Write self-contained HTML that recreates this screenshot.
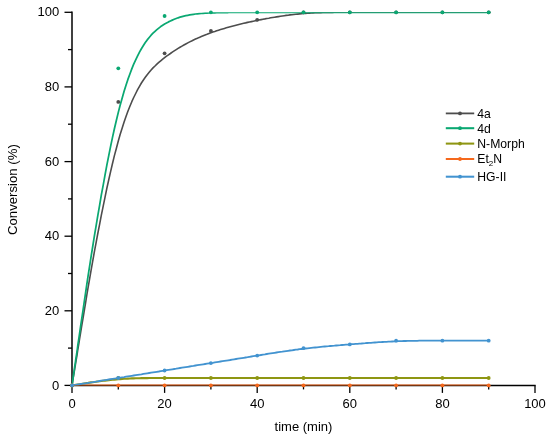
<!DOCTYPE html>
<html><head><meta charset="utf-8"><title>Conversion vs time</title>
<style>html,body{margin:0;padding:0;background:#fff}body{width:550px;height:437px;overflow:hidden}</style></head>
<body>
<svg width="550" height="437" viewBox="0 0 550 437" style="display:block">
<rect width="550" height="437" fill="#fff"/>
<defs><clipPath id="pc"><rect x="72.0" y="12.20" width="463.0" height="373.35"/></clipPath></defs>
<g stroke="#000" fill="none" stroke-linecap="square">
<path d="M72.0 12.3 V385.45" stroke-width="1.5"/><path d="M72.0 385.45 H535.0" stroke-width="1.35"/>
</g>
<g stroke="#000" stroke-width="1.3" fill="none">
<path d="M64.5 385.4 H72.0"/>
<path d="M72.0 385.45 V392.9"/>
<path d="M68.0 348.1 H72.0"/>
<path d="M118.3 385.45 V389.4"/>
<path d="M64.5 310.8 H72.0"/>
<path d="M164.6 385.45 V392.9"/>
<path d="M68.0 273.5 H72.0"/>
<path d="M210.9 385.45 V389.4"/>
<path d="M64.5 236.2 H72.0"/>
<path d="M257.2 385.45 V392.9"/>
<path d="M68.0 198.9 H72.0"/>
<path d="M303.5 385.45 V389.4"/>
<path d="M64.5 161.6 H72.0"/>
<path d="M349.8 385.45 V392.9"/>
<path d="M68.0 124.2 H72.0"/>
<path d="M396.1 385.45 V389.4"/>
<path d="M64.5 86.9 H72.0"/>
<path d="M442.4 385.45 V392.9"/>
<path d="M68.0 49.6 H72.0"/>
<path d="M488.7 385.45 V389.4"/>
<path d="M64.5 12.3 H72.0"/>
<path d="M535.0 385.45 V392.9"/>
</g>
<g font-family="'Liberation Sans', Arial, sans-serif" font-size="13" fill="#000">
<text x="59.3" y="389.5" text-anchor="end">0</text>
<text x="72.0" y="408" text-anchor="middle">0</text>
<text x="59.3" y="314.9" text-anchor="end">20</text>
<text x="164.6" y="408" text-anchor="middle">20</text>
<text x="59.3" y="240.2" text-anchor="end">40</text>
<text x="257.2" y="408" text-anchor="middle">40</text>
<text x="59.3" y="165.6" text-anchor="end">60</text>
<text x="349.8" y="408" text-anchor="middle">60</text>
<text x="59.3" y="91.0" text-anchor="end">80</text>
<text x="442.4" y="408" text-anchor="middle">80</text>
<text x="59.3" y="16.4" text-anchor="end">100</text>
<text x="535.0" y="408" text-anchor="middle">100</text>
<text x="303.5" y="431" text-anchor="middle">time (min)</text>
<text transform="translate(17 189.6) rotate(-90)" text-anchor="middle" font-size="13.2">Conversion (%)</text>
</g>
<path d="M72.0 385.4 L72.0 385.4 L72.0 385.4 L72.0 385.4 L72.0 385.2 L72.1 385.0 L72.1 384.7 L72.2 384.3 L72.3 383.7 L72.4 383.0 L72.6 382.0 L72.7 380.9 L73.0 379.5 L73.2 377.9 L73.5 376.1 L73.9 373.9 L74.3 371.4 L74.7 368.7 L75.3 365.5 L75.8 362.0 L76.5 358.1 L77.2 353.8 L77.9 349.0 L78.8 343.8 L79.7 338.2 L80.7 332.0 L81.8 325.4 L83.0 318.4 L84.2 311.0 L85.5 303.3 L86.8 295.2 L88.2 286.9 L89.7 278.4 L91.2 269.6 L92.8 260.7 L94.4 251.7 L96.1 242.6 L97.8 233.5 L99.6 224.4 L101.3 215.3 L103.2 206.2 L105.0 197.3 L106.8 188.5 L108.7 180.0 L110.6 171.6 L112.5 163.5 L114.4 155.6 L116.4 148.2 L118.3 141.0 L120.2 134.3 L122.2 128.0 L124.1 122.0 L126.0 116.5 L127.9 111.2 L129.9 106.3 L131.8 101.7 L133.7 97.5 L135.7 93.5 L137.6 89.7 L139.5 86.3 L141.4 83.0 L143.4 80.0 L145.3 77.3 L147.2 74.7 L149.2 72.3 L151.1 70.0 L153.0 67.9 L155.0 66.0 L156.9 64.1 L158.8 62.4 L160.7 60.8 L162.7 59.2 L164.6 57.7 L166.5 56.2 L168.5 54.8 L170.4 53.5 L172.3 52.1 L174.2 50.9 L176.2 49.6 L178.1 48.4 L180.0 47.2 L182.0 46.1 L183.9 45.0 L185.8 44.0 L187.8 42.9 L189.7 41.9 L191.6 41.0 L193.5 40.0 L195.5 39.1 L197.4 38.3 L199.3 37.4 L201.3 36.6 L203.2 35.8 L205.1 35.0 L207.0 34.3 L209.0 33.5 L210.9 32.8 L212.8 32.1 L214.8 31.5 L216.7 30.8 L218.6 30.2 L220.5 29.6 L222.5 29.0 L224.4 28.4 L226.3 27.8 L228.3 27.2 L230.2 26.7 L232.1 26.2 L234.1 25.7 L236.0 25.2 L237.9 24.7 L239.8 24.2 L241.8 23.7 L243.7 23.3 L245.6 22.9 L247.6 22.4 L249.5 22.0 L251.4 21.6 L253.3 21.2 L255.3 20.8 L257.2 20.4 L259.1 20.0 L261.1 19.6 L263.0 19.2 L264.9 18.9 L266.8 18.5 L268.8 18.2 L270.7 17.8 L272.6 17.5 L274.6 17.2 L276.5 16.9 L278.4 16.6 L280.4 16.3 L282.3 16.0 L284.2 15.7 L286.1 15.4 L288.1 15.2 L290.0 14.9 L291.9 14.7 L293.9 14.5 L295.8 14.3 L297.7 14.1 L299.6 13.9 L301.6 13.7 L303.5 13.5 L305.4 13.4 L307.4 13.3 L309.3 13.1 L311.2 13.0 L313.1 12.9 L315.1 12.8 L317.0 12.7 L318.9 12.7 L320.9 12.6 L322.8 12.5 L324.7 12.5 L326.6 12.5 L328.6 12.4 L330.5 12.4 L332.4 12.4 L334.4 12.3 L336.3 12.3 L338.2 12.3 L340.2 12.3 L342.1 12.3 L344.0 12.3 L345.9 12.3 L347.9 12.3 L349.8 12.3 L351.7 12.3 L353.7 12.3 L355.6 12.3 L357.5 12.3 L359.4 12.3 L361.4 12.3 L363.3 12.3 L365.2 12.3 L367.2 12.3 L369.1 12.3 L371.0 12.3 L372.9 12.3 L374.9 12.3 L376.8 12.3 L378.7 12.3 L380.7 12.3 L382.6 12.3 L384.5 12.3 L386.5 12.3 L388.4 12.3 L390.3 12.3 L392.2 12.3 L394.2 12.3 L396.1 12.3 L398.0 12.3 L400.0 12.3 L401.9 12.3 L403.8 12.3 L405.7 12.3 L407.7 12.3 L409.6 12.3 L411.5 12.3 L413.5 12.3 L415.4 12.3 L417.3 12.3 L419.2 12.3 L421.2 12.3 L423.1 12.3 L425.0 12.3 L427.0 12.3 L428.9 12.3 L430.8 12.3 L432.8 12.3 L434.7 12.3 L436.6 12.3 L438.5 12.3 L440.5 12.3 L442.4 12.3 L444.3 12.3 L446.3 12.3 L448.2 12.3 L450.1 12.3 L452.0 12.3 L453.9 12.3 L455.7 12.3 L457.5 12.3 L459.4 12.3 L461.1 12.3 L462.9 12.3 L464.6 12.3 L466.3 12.3 L467.9 12.3 L469.5 12.3 L471.0 12.3 L472.5 12.3 L473.9 12.3 L475.2 12.3 L476.5 12.3 L477.7 12.3 L478.9 12.3 L480.0 12.3 L481.0 12.3 L481.9 12.3 L482.8 12.3 L483.5 12.3 L484.2 12.3 L484.9 12.3 L485.4 12.3 L486.0 12.3 L486.4 12.3 L486.8 12.3 L487.2 12.3 L487.5 12.3 L487.7 12.3 L488.0 12.3 L488.1 12.3 L488.3 12.3 L488.4 12.3 L488.5 12.3 L488.6 12.3 L488.6 12.3 L488.7 12.3 L488.7 12.3 L488.7 12.3 L488.7 12.3 L488.7 12.3" fill="none" stroke="#4d4d4d" stroke-width="1.6" stroke-linejoin="round" clip-path="url(#pc)"/>
<g fill="#4d4d4d"><circle cx="72.0" cy="385.4" r="1.9"/><circle cx="118.3" cy="101.9" r="1.9"/><circle cx="164.6" cy="53.3" r="1.9"/><circle cx="210.9" cy="31.0" r="1.9"/><circle cx="257.2" cy="19.8" r="1.9"/><circle cx="303.5" cy="12.3" r="1.9"/><circle cx="349.8" cy="12.3" r="1.9"/><circle cx="396.1" cy="12.3" r="1.9"/><circle cx="442.4" cy="12.3" r="1.9"/><circle cx="488.7" cy="12.3" r="1.9"/></g>
<path d="M72.0 385.4 L72.0 385.4 L72.0 385.4 L72.0 385.3 L72.0 385.2 L72.1 385.0 L72.1 384.6 L72.2 384.1 L72.3 383.5 L72.4 382.7 L72.6 381.6 L72.7 380.4 L73.0 378.8 L73.2 377.0 L73.5 375.0 L73.9 372.5 L74.3 369.8 L74.7 366.7 L75.3 363.1 L75.8 359.2 L76.5 354.9 L77.2 350.0 L77.9 344.7 L78.8 338.9 L79.7 332.6 L80.7 325.7 L81.8 318.3 L83.0 310.5 L84.2 302.2 L85.5 293.5 L86.8 284.5 L88.2 275.2 L89.7 265.7 L91.2 255.9 L92.8 246.0 L94.4 235.9 L96.1 225.8 L97.8 215.6 L99.6 205.4 L101.3 195.2 L103.2 185.1 L105.0 175.2 L106.8 165.4 L108.7 155.8 L110.6 146.4 L112.5 137.4 L114.4 128.7 L116.4 120.3 L118.3 112.4 L120.2 105.0 L122.2 97.9 L124.1 91.3 L126.0 85.2 L127.9 79.4 L129.9 74.0 L131.8 68.9 L133.7 64.2 L135.7 59.9 L137.6 55.9 L139.5 52.1 L141.4 48.7 L143.4 45.5 L145.3 42.6 L147.2 39.9 L149.2 37.5 L151.1 35.2 L153.0 33.2 L155.0 31.3 L156.9 29.6 L158.8 28.1 L160.7 26.6 L162.7 25.3 L164.6 24.1 L166.5 23.0 L168.5 21.9 L170.4 21.0 L172.3 20.1 L174.2 19.3 L176.2 18.5 L178.1 17.8 L180.0 17.2 L182.0 16.6 L183.9 16.1 L185.8 15.7 L187.8 15.3 L189.7 14.9 L191.6 14.6 L193.5 14.3 L195.5 14.0 L197.4 13.8 L199.3 13.6 L201.3 13.5 L203.2 13.3 L205.1 13.2 L207.0 13.1 L209.0 13.0 L210.9 12.9 L212.8 12.8 L214.8 12.8 L216.7 12.7 L218.6 12.7 L220.5 12.6 L222.5 12.6 L224.4 12.5 L226.3 12.5 L228.3 12.5 L230.2 12.4 L232.1 12.4 L234.1 12.4 L236.0 12.4 L237.9 12.3 L239.8 12.3 L241.8 12.3 L243.7 12.3 L245.6 12.3 L247.6 12.3 L249.5 12.3 L251.4 12.3 L253.3 12.3 L255.3 12.3 L257.2 12.3 L259.1 12.3 L261.1 12.3 L263.0 12.3 L264.9 12.3 L266.8 12.3 L268.8 12.3 L270.7 12.3 L272.6 12.3 L274.6 12.3 L276.5 12.3 L278.4 12.3 L280.4 12.3 L282.3 12.3 L284.2 12.3 L286.1 12.3 L288.1 12.3 L290.0 12.3 L291.9 12.3 L293.9 12.3 L295.8 12.3 L297.7 12.3 L299.6 12.3 L301.6 12.3 L303.5 12.3 L305.4 12.3 L307.4 12.3 L309.3 12.3 L311.2 12.3 L313.1 12.3 L315.1 12.3 L317.0 12.3 L318.9 12.3 L320.9 12.3 L322.8 12.3 L324.7 12.3 L326.6 12.3 L328.6 12.3 L330.5 12.3 L332.4 12.3 L334.4 12.3 L336.3 12.3 L338.2 12.3 L340.2 12.3 L342.1 12.3 L344.0 12.3 L345.9 12.3 L347.9 12.3 L349.8 12.3 L351.7 12.3 L353.7 12.3 L355.6 12.3 L357.5 12.3 L359.4 12.3 L361.4 12.3 L363.3 12.3 L365.2 12.3 L367.2 12.3 L369.1 12.3 L371.0 12.3 L372.9 12.3 L374.9 12.3 L376.8 12.3 L378.7 12.3 L380.7 12.3 L382.6 12.3 L384.5 12.3 L386.5 12.3 L388.4 12.3 L390.3 12.3 L392.2 12.3 L394.2 12.3 L396.1 12.3 L398.0 12.3 L400.0 12.3 L401.9 12.3 L403.8 12.3 L405.7 12.3 L407.7 12.3 L409.6 12.3 L411.5 12.3 L413.5 12.3 L415.4 12.3 L417.3 12.3 L419.2 12.3 L421.2 12.3 L423.1 12.3 L425.0 12.3 L427.0 12.3 L428.9 12.3 L430.8 12.3 L432.8 12.3 L434.7 12.3 L436.6 12.3 L438.5 12.3 L440.5 12.3 L442.4 12.3 L444.3 12.3 L446.3 12.3 L448.2 12.3 L450.1 12.3 L452.0 12.3 L453.9 12.3 L455.7 12.3 L457.5 12.3 L459.4 12.3 L461.1 12.3 L462.9 12.3 L464.6 12.3 L466.3 12.3 L467.9 12.3 L469.5 12.3 L471.0 12.3 L472.5 12.3 L473.9 12.3 L475.2 12.3 L476.5 12.3 L477.7 12.3 L478.9 12.3 L480.0 12.3 L481.0 12.3 L481.9 12.3 L482.8 12.3 L483.5 12.3 L484.2 12.3 L484.9 12.3 L485.4 12.3 L486.0 12.3 L486.4 12.3 L486.8 12.3 L487.2 12.3 L487.5 12.3 L487.7 12.3 L488.0 12.3 L488.1 12.3 L488.3 12.3 L488.4 12.3 L488.5 12.3 L488.6 12.3 L488.6 12.3 L488.7 12.3 L488.7 12.3 L488.7 12.3 L488.7 12.3 L488.7 12.3" fill="none" stroke="#0aa872" stroke-width="1.75" stroke-linejoin="round" clip-path="url(#pc)"/>
<g fill="#0aa872"><circle cx="72.0" cy="385.4" r="1.9"/><circle cx="118.3" cy="68.3" r="1.9"/><circle cx="164.6" cy="16.0" r="1.9"/><circle cx="210.9" cy="12.3" r="1.9"/><circle cx="257.2" cy="12.3" r="1.9"/><circle cx="303.5" cy="12.3" r="1.9"/><circle cx="349.8" cy="12.3" r="1.9"/><circle cx="396.1" cy="12.3" r="1.9"/><circle cx="442.4" cy="12.3" r="1.9"/><circle cx="488.7" cy="12.3" r="1.9"/></g>
<path d="M72.0 385.4 L72.0 385.4 L72.0 385.4 L72.0 385.4 L72.0 385.4 L72.1 385.4 L72.1 385.4 L72.2 385.4 L72.3 385.4 L72.4 385.4 L72.6 385.4 L72.7 385.3 L73.0 385.3 L73.2 385.3 L73.5 385.2 L73.9 385.1 L74.3 385.1 L74.7 385.0 L75.3 384.9 L75.8 384.8 L76.5 384.7 L77.2 384.6 L77.9 384.5 L78.8 384.4 L79.7 384.2 L80.7 384.0 L81.8 383.9 L83.0 383.7 L84.2 383.5 L85.5 383.3 L86.8 383.1 L88.2 382.9 L89.7 382.6 L91.2 382.4 L92.8 382.2 L94.4 382.0 L96.1 381.7 L97.8 381.5 L99.6 381.3 L101.3 381.0 L103.2 380.8 L105.0 380.6 L106.8 380.4 L108.7 380.1 L110.6 379.9 L112.5 379.8 L114.4 379.6 L116.4 379.4 L118.3 379.2 L120.2 379.1 L122.2 378.9 L124.1 378.8 L126.0 378.7 L127.9 378.6 L129.9 378.5 L131.8 378.4 L133.7 378.4 L135.7 378.3 L137.6 378.2 L139.5 378.2 L141.4 378.1 L143.4 378.1 L145.3 378.1 L147.2 378.1 L149.2 378.0 L151.1 378.0 L153.0 378.0 L155.0 378.0 L156.9 378.0 L158.8 378.0 L160.7 378.0 L162.7 378.0 L164.6 378.0 L166.5 378.0 L168.5 378.0 L170.4 378.0 L172.3 378.0 L174.2 378.0 L176.2 378.0 L178.1 378.0 L180.0 378.0 L182.0 378.0 L183.9 378.0 L185.8 378.0 L187.8 378.0 L189.7 378.0 L191.6 378.0 L193.5 378.0 L195.5 378.0 L197.4 378.0 L199.3 378.0 L201.3 378.0 L203.2 378.0 L205.1 378.0 L207.0 378.0 L209.0 378.0 L210.9 378.0 L212.8 378.0 L214.8 378.0 L216.7 378.0 L218.6 378.0 L220.5 378.0 L222.5 378.0 L224.4 378.0 L226.3 378.0 L228.3 378.0 L230.2 378.0 L232.1 378.0 L234.1 378.0 L236.0 378.0 L237.9 378.0 L239.8 378.0 L241.8 378.0 L243.7 378.0 L245.6 378.0 L247.6 378.0 L249.5 378.0 L251.4 378.0 L253.3 378.0 L255.3 378.0 L257.2 378.0 L259.1 378.0 L261.1 378.0 L263.0 378.0 L264.9 378.0 L266.8 378.0 L268.8 378.0 L270.7 378.0 L272.6 378.0 L274.6 378.0 L276.5 378.0 L278.4 378.0 L280.4 378.0 L282.3 378.0 L284.2 378.0 L286.1 378.0 L288.1 378.0 L290.0 378.0 L291.9 378.0 L293.9 378.0 L295.8 378.0 L297.7 378.0 L299.6 378.0 L301.6 378.0 L303.5 378.0 L305.4 378.0 L307.4 378.0 L309.3 378.0 L311.2 378.0 L313.1 378.0 L315.1 378.0 L317.0 378.0 L318.9 378.0 L320.9 378.0 L322.8 378.0 L324.7 378.0 L326.6 378.0 L328.6 378.0 L330.5 378.0 L332.4 378.0 L334.4 378.0 L336.3 378.0 L338.2 378.0 L340.2 378.0 L342.1 378.0 L344.0 378.0 L345.9 378.0 L347.9 378.0 L349.8 378.0 L351.7 378.0 L353.7 378.0 L355.6 378.0 L357.5 378.0 L359.4 378.0 L361.4 378.0 L363.3 378.0 L365.2 378.0 L367.2 378.0 L369.1 378.0 L371.0 378.0 L372.9 378.0 L374.9 378.0 L376.8 378.0 L378.7 378.0 L380.7 378.0 L382.6 378.0 L384.5 378.0 L386.5 378.0 L388.4 378.0 L390.3 378.0 L392.2 378.0 L394.2 378.0 L396.1 378.0 L398.0 378.0 L400.0 378.0 L401.9 378.0 L403.8 378.0 L405.7 378.0 L407.7 378.0 L409.6 378.0 L411.5 378.0 L413.5 378.0 L415.4 378.0 L417.3 378.0 L419.2 378.0 L421.2 378.0 L423.1 378.0 L425.0 378.0 L427.0 378.0 L428.9 378.0 L430.8 378.0 L432.8 378.0 L434.7 378.0 L436.6 378.0 L438.5 378.0 L440.5 378.0 L442.4 378.0 L444.3 378.0 L446.3 378.0 L448.2 378.0 L450.1 378.0 L452.0 378.0 L453.9 378.0 L455.7 378.0 L457.5 378.0 L459.4 378.0 L461.1 378.0 L462.9 378.0 L464.6 378.0 L466.3 378.0 L467.9 378.0 L469.5 378.0 L471.0 378.0 L472.5 378.0 L473.9 378.0 L475.2 378.0 L476.5 378.0 L477.7 378.0 L478.9 378.0 L480.0 378.0 L481.0 378.0 L481.9 378.0 L482.8 378.0 L483.5 378.0 L484.2 378.0 L484.9 378.0 L485.4 378.0 L486.0 378.0 L486.4 378.0 L486.8 378.0 L487.2 378.0 L487.5 378.0 L487.7 378.0 L488.0 378.0 L488.1 378.0 L488.3 378.0 L488.4 378.0 L488.5 378.0 L488.6 378.0 L488.6 378.0 L488.7 378.0 L488.7 378.0 L488.7 378.0 L488.7 378.0 L488.7 378.0" fill="none" stroke="#8e9612" stroke-width="2.1" stroke-linejoin="round" clip-path="url(#pc)"/>
<g fill="#8e9612"><circle cx="72.0" cy="385.4" r="1.9"/><circle cx="118.3" cy="378.0" r="1.9"/><circle cx="164.6" cy="378.0" r="1.9"/><circle cx="210.9" cy="378.0" r="1.9"/><circle cx="257.2" cy="378.0" r="1.9"/><circle cx="303.5" cy="378.0" r="1.9"/><circle cx="349.8" cy="378.0" r="1.9"/><circle cx="396.1" cy="378.0" r="1.9"/><circle cx="442.4" cy="378.0" r="1.9"/><circle cx="488.7" cy="378.0" r="1.9"/></g>
<path d="M72.0 385.4 L72.0 385.4 L72.0 385.4 L72.0 385.4 L72.0 385.4 L72.1 385.4 L72.1 385.4 L72.2 385.4 L72.3 385.4 L72.4 385.4 L72.6 385.4 L72.7 385.4 L73.0 385.4 L73.2 385.4 L73.5 385.4 L73.9 385.4 L74.3 385.4 L74.7 385.4 L75.3 385.4 L75.8 385.4 L76.5 385.4 L77.2 385.4 L77.9 385.4 L78.8 385.4 L79.7 385.4 L80.7 385.4 L81.8 385.4 L83.0 385.4 L84.2 385.4 L85.5 385.4 L86.8 385.4 L88.2 385.4 L89.7 385.4 L91.2 385.4 L92.8 385.4 L94.4 385.4 L96.1 385.4 L97.8 385.4 L99.6 385.4 L101.3 385.4 L103.2 385.4 L105.0 385.4 L106.8 385.4 L108.7 385.4 L110.6 385.4 L112.5 385.4 L114.4 385.4 L116.4 385.4 L118.3 385.4 L120.2 385.4 L122.2 385.4 L124.1 385.4 L126.0 385.4 L127.9 385.4 L129.9 385.4 L131.8 385.4 L133.7 385.4 L135.7 385.4 L137.6 385.4 L139.5 385.4 L141.4 385.4 L143.4 385.4 L145.3 385.4 L147.2 385.4 L149.2 385.4 L151.1 385.4 L153.0 385.4 L155.0 385.4 L156.9 385.4 L158.8 385.4 L160.7 385.4 L162.7 385.4 L164.6 385.4 L166.5 385.4 L168.5 385.4 L170.4 385.4 L172.3 385.4 L174.2 385.4 L176.2 385.4 L178.1 385.4 L180.0 385.4 L182.0 385.4 L183.9 385.4 L185.8 385.4 L187.8 385.4 L189.7 385.4 L191.6 385.4 L193.5 385.4 L195.5 385.4 L197.4 385.4 L199.3 385.4 L201.3 385.4 L203.2 385.4 L205.1 385.4 L207.0 385.4 L209.0 385.4 L210.9 385.4 L212.8 385.4 L214.8 385.4 L216.7 385.4 L218.6 385.4 L220.5 385.4 L222.5 385.4 L224.4 385.4 L226.3 385.4 L228.3 385.4 L230.2 385.4 L232.1 385.4 L234.1 385.4 L236.0 385.4 L237.9 385.4 L239.8 385.4 L241.8 385.4 L243.7 385.4 L245.6 385.4 L247.6 385.4 L249.5 385.4 L251.4 385.4 L253.3 385.4 L255.3 385.4 L257.2 385.4 L259.1 385.4 L261.1 385.4 L263.0 385.4 L264.9 385.4 L266.8 385.4 L268.8 385.4 L270.7 385.4 L272.6 385.4 L274.6 385.4 L276.5 385.4 L278.4 385.4 L280.4 385.4 L282.3 385.4 L284.2 385.4 L286.1 385.4 L288.1 385.4 L290.0 385.4 L291.9 385.4 L293.9 385.4 L295.8 385.4 L297.7 385.4 L299.6 385.4 L301.6 385.4 L303.5 385.4 L305.4 385.4 L307.4 385.4 L309.3 385.4 L311.2 385.4 L313.1 385.4 L315.1 385.4 L317.0 385.4 L318.9 385.4 L320.9 385.4 L322.8 385.4 L324.7 385.4 L326.6 385.4 L328.6 385.4 L330.5 385.4 L332.4 385.4 L334.4 385.4 L336.3 385.4 L338.2 385.4 L340.2 385.4 L342.1 385.4 L344.0 385.4 L345.9 385.4 L347.9 385.4 L349.8 385.4 L351.7 385.4 L353.7 385.4 L355.6 385.4 L357.5 385.4 L359.4 385.4 L361.4 385.4 L363.3 385.4 L365.2 385.4 L367.2 385.4 L369.1 385.4 L371.0 385.4 L372.9 385.4 L374.9 385.4 L376.8 385.4 L378.7 385.4 L380.7 385.4 L382.6 385.4 L384.5 385.4 L386.5 385.4 L388.4 385.4 L390.3 385.4 L392.2 385.4 L394.2 385.4 L396.1 385.4 L398.0 385.4 L400.0 385.4 L401.9 385.4 L403.8 385.4 L405.7 385.4 L407.7 385.4 L409.6 385.4 L411.5 385.4 L413.5 385.4 L415.4 385.4 L417.3 385.4 L419.2 385.4 L421.2 385.4 L423.1 385.4 L425.0 385.4 L427.0 385.4 L428.9 385.4 L430.8 385.4 L432.8 385.4 L434.7 385.4 L436.6 385.4 L438.5 385.4 L440.5 385.4 L442.4 385.4 L444.3 385.4 L446.3 385.4 L448.2 385.4 L450.1 385.4 L452.0 385.4 L453.9 385.4 L455.7 385.4 L457.5 385.4 L459.4 385.4 L461.1 385.4 L462.9 385.4 L464.6 385.4 L466.3 385.4 L467.9 385.4 L469.5 385.4 L471.0 385.4 L472.5 385.4 L473.9 385.4 L475.2 385.4 L476.5 385.4 L477.7 385.4 L478.9 385.4 L480.0 385.4 L481.0 385.4 L481.9 385.4 L482.8 385.4 L483.5 385.4 L484.2 385.4 L484.9 385.4 L485.4 385.4 L486.0 385.4 L486.4 385.4 L486.8 385.4 L487.2 385.4 L487.5 385.4 L487.7 385.4 L488.0 385.4 L488.1 385.4 L488.3 385.4 L488.4 385.4 L488.5 385.4 L488.6 385.4 L488.6 385.4 L488.7 385.4 L488.7 385.4 L488.7 385.4 L488.7 385.4 L488.7 385.4" fill="none" stroke="#f5681c" stroke-width="2.0" stroke-linejoin="round" clip-path="url(#pc)"/>
<g fill="#f5681c"><circle cx="72.0" cy="385.4" r="1.9"/><circle cx="118.3" cy="385.4" r="1.9"/><circle cx="164.6" cy="385.4" r="1.9"/><circle cx="210.9" cy="385.4" r="1.9"/><circle cx="257.2" cy="385.4" r="1.9"/><circle cx="303.5" cy="385.4" r="1.9"/><circle cx="349.8" cy="385.4" r="1.9"/><circle cx="396.1" cy="385.4" r="1.9"/><circle cx="442.4" cy="385.4" r="1.9"/><circle cx="488.7" cy="385.4" r="1.9"/></g>
<path d="M72.0 385.4 L72.0 385.4 L72.0 385.4 L72.0 385.4 L72.0 385.4 L72.1 385.4 L72.1 385.4 L72.2 385.4 L72.3 385.4 L72.4 385.4 L72.6 385.4 L72.7 385.3 L73.0 385.3 L73.2 385.3 L73.5 385.2 L73.9 385.1 L74.3 385.1 L74.7 385.0 L75.3 384.9 L75.8 384.8 L76.5 384.7 L77.2 384.6 L77.9 384.5 L78.8 384.4 L79.7 384.2 L80.7 384.0 L81.8 383.9 L83.0 383.7 L84.2 383.5 L85.5 383.3 L86.8 383.1 L88.2 382.8 L89.7 382.6 L91.2 382.3 L92.8 382.1 L94.4 381.8 L96.1 381.6 L97.8 381.3 L99.6 381.0 L101.3 380.7 L103.2 380.4 L105.0 380.1 L106.8 379.8 L108.7 379.5 L110.6 379.2 L112.5 378.9 L114.4 378.6 L116.4 378.3 L118.3 378.0 L120.2 377.7 L122.2 377.4 L124.1 377.1 L126.0 376.7 L127.9 376.4 L129.9 376.1 L131.8 375.8 L133.7 375.5 L135.7 375.2 L137.6 374.9 L139.5 374.6 L141.4 374.3 L143.4 373.9 L145.3 373.6 L147.2 373.3 L149.2 373.0 L151.1 372.7 L153.0 372.4 L155.0 372.1 L156.9 371.8 L158.8 371.5 L160.7 371.1 L162.7 370.8 L164.6 370.5 L166.5 370.2 L168.5 369.9 L170.4 369.6 L172.3 369.3 L174.2 369.0 L176.2 368.7 L178.1 368.3 L180.0 368.0 L182.0 367.7 L183.9 367.4 L185.8 367.1 L187.8 366.8 L189.7 366.5 L191.6 366.2 L193.5 365.9 L195.5 365.5 L197.4 365.2 L199.3 364.9 L201.3 364.6 L203.2 364.3 L205.1 364.0 L207.0 363.7 L209.0 363.4 L210.9 363.1 L212.8 362.8 L214.8 362.4 L216.7 362.1 L218.6 361.8 L220.5 361.5 L222.5 361.2 L224.4 360.9 L226.3 360.6 L228.3 360.3 L230.2 360.0 L232.1 359.6 L234.1 359.3 L236.0 359.0 L237.9 358.7 L239.8 358.4 L241.8 358.1 L243.7 357.8 L245.6 357.5 L247.6 357.2 L249.5 356.8 L251.4 356.5 L253.3 356.2 L255.3 355.9 L257.2 355.6 L259.1 355.3 L261.1 355.0 L263.0 354.7 L264.9 354.4 L266.8 354.0 L268.8 353.7 L270.7 353.4 L272.6 353.1 L274.6 352.8 L276.5 352.5 L278.4 352.2 L280.4 351.9 L282.3 351.7 L284.2 351.4 L286.1 351.1 L288.1 350.8 L290.0 350.5 L291.9 350.3 L293.9 350.0 L295.8 349.7 L297.7 349.5 L299.6 349.2 L301.6 349.0 L303.5 348.8 L305.4 348.5 L307.4 348.3 L309.3 348.1 L311.2 347.9 L313.1 347.7 L315.1 347.5 L317.0 347.3 L318.9 347.1 L320.9 346.9 L322.8 346.7 L324.7 346.5 L326.6 346.3 L328.6 346.2 L330.5 346.0 L332.4 345.8 L334.4 345.7 L336.3 345.5 L338.2 345.3 L340.2 345.2 L342.1 345.0 L344.0 344.9 L345.9 344.7 L347.9 344.6 L349.8 344.4 L351.7 344.2 L353.7 344.1 L355.6 343.9 L357.5 343.8 L359.4 343.6 L361.4 343.5 L363.3 343.3 L365.2 343.2 L367.2 343.0 L369.1 342.9 L371.0 342.8 L372.9 342.6 L374.9 342.5 L376.8 342.4 L378.7 342.2 L380.7 342.1 L382.6 342.0 L384.5 341.9 L386.5 341.8 L388.4 341.7 L390.3 341.6 L392.2 341.5 L394.2 341.4 L396.1 341.3 L398.0 341.2 L400.0 341.2 L401.9 341.1 L403.8 341.0 L405.7 341.0 L407.7 340.9 L409.6 340.9 L411.5 340.9 L413.5 340.8 L415.4 340.8 L417.3 340.8 L419.2 340.7 L421.2 340.7 L423.1 340.7 L425.0 340.7 L427.0 340.7 L428.9 340.7 L430.8 340.7 L432.8 340.7 L434.7 340.7 L436.6 340.7 L438.5 340.7 L440.5 340.7 L442.4 340.7 L444.3 340.7 L446.3 340.7 L448.2 340.7 L450.1 340.7 L452.0 340.7 L453.9 340.7 L455.7 340.7 L457.5 340.7 L459.4 340.7 L461.1 340.7 L462.9 340.7 L464.6 340.7 L466.3 340.7 L467.9 340.7 L469.5 340.7 L471.0 340.7 L472.5 340.7 L473.9 340.7 L475.2 340.7 L476.5 340.7 L477.7 340.7 L478.9 340.7 L480.0 340.7 L481.0 340.7 L481.9 340.7 L482.8 340.7 L483.5 340.7 L484.2 340.7 L484.9 340.7 L485.4 340.7 L486.0 340.7 L486.4 340.7 L486.8 340.7 L487.2 340.7 L487.5 340.7 L487.7 340.7 L488.0 340.7 L488.1 340.7 L488.3 340.7 L488.4 340.7 L488.5 340.7 L488.6 340.7 L488.6 340.7 L488.7 340.7 L488.7 340.7 L488.7 340.7 L488.7 340.7 L488.7 340.7" fill="none" stroke="#4293d0" stroke-width="1.8" stroke-linejoin="round" clip-path="url(#pc)"/>
<g fill="#4293d0"><circle cx="72.0" cy="385.4" r="1.9"/><circle cx="118.3" cy="378.0" r="1.9"/><circle cx="164.6" cy="370.5" r="1.9"/><circle cx="210.9" cy="363.1" r="1.9"/><circle cx="257.2" cy="355.6" r="1.9"/><circle cx="303.5" cy="348.1" r="1.9"/><circle cx="349.8" cy="344.4" r="1.9"/><circle cx="396.1" cy="340.7" r="1.9"/><circle cx="442.4" cy="340.7" r="1.9"/><circle cx="488.7" cy="340.7" r="1.9"/></g>
<g font-family="'Liberation Sans', Arial, sans-serif" font-size="12.2" fill="#000">
<path d="M445.8 113.4 H474.2" stroke="#4d4d4d" stroke-width="1.8"/><circle cx="460" cy="113.4" r="1.9" fill="#4d4d4d"/>
<text x="477.3" y="117.7">4a</text>
<path d="M445.8 128.2 H474.2" stroke="#0aa872" stroke-width="2.05"/><circle cx="460" cy="128.2" r="1.9" fill="#0aa872"/>
<text x="477.3" y="132.5">4d</text>
<path d="M445.8 143.6 H474.2" stroke="#8e9612" stroke-width="2.05"/><circle cx="460" cy="143.6" r="1.9" fill="#8e9612"/>
<text x="477.3" y="147.9">N-Morph</text>
<path d="M445.8 159 H474.2" stroke="#f5681c" stroke-width="2.05"/><circle cx="460" cy="159" r="1.9" fill="#f5681c"/>
<text x="477.3" y="163.3">Et<tspan font-size="8" dy="3">2</tspan><tspan dy="-3">N</tspan></text>
<path d="M445.8 176.7 H474.2" stroke="#4293d0" stroke-width="2.05"/><circle cx="460" cy="176.7" r="1.9" fill="#4293d0"/>
<text x="477.3" y="181.0">HG-II</text>
</g>
</svg>
</body></html>
